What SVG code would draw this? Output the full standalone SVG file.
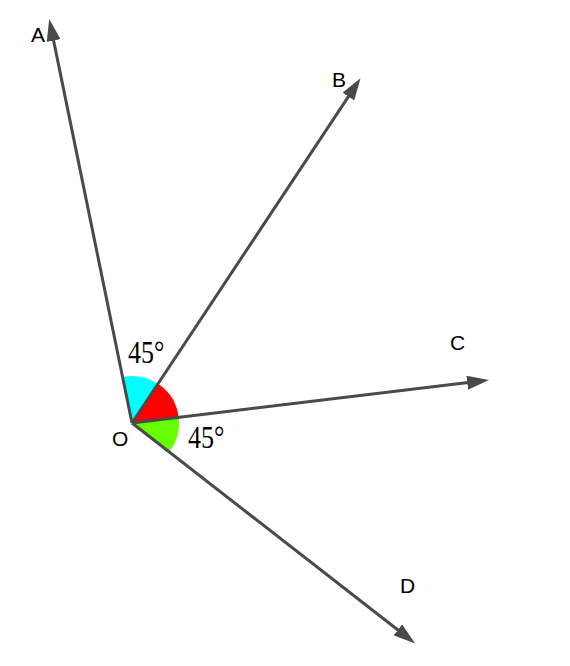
<svg xmlns="http://www.w3.org/2000/svg" width="570" height="666" viewBox="0 0 570 666">
<style>
.ray{stroke:#4a4a4a;stroke-width:3;fill:none;marker-end:url(#head)}
.lbl{font-family:"Liberation Sans",Arial,sans-serif;font-size:21px;fill:#000}
.deg{font-family:"Liberation Serif","Times New Roman",serif;font-size:26px;fill:#000}
</style>
<defs>
<marker id="head" markerUnits="userSpaceOnUse" markerWidth="24" markerHeight="14" viewBox="0 0 24 14" refX="1" refY="7" orient="auto">
<path d="M0,0 L22,7 L0,14 Z" fill="#4a4a4a"/>
</marker>
</defs>
<rect width="570" height="666" fill="#fff"/>
<g id="angles">
<path id="angle-AOB" d="M132,423 L122.56,376.95 A47,47 0 0 1 157.99,383.84 Z" fill="#00ffff"/>
<path id="angle-BOC" d="M132,423 L157.99,383.84 A47,47 0 0 1 178.66,417.40 Z" fill="#ff0000"/>
<path id="angle-COD" d="M132,423 L178.66,417.40 A47,47 0 0 1 169.09,451.86 Z" fill="#66ff00"/>
</g>
<g id="connectors">
<line class="ray" x1="132" y1="423" x2="53.4" y2="39.6"/>
<line class="ray" x1="132" y1="423" x2="348.9" y2="95.8"/>
<line class="ray" x1="132" y1="423" x2="468.2" y2="382.6"/>
<line class="ray" x1="132" y1="423" x2="398.6" y2="630.5"/>
</g>
<g id="labels">
<text class="lbl" x="31" y="42">A</text>
<text class="lbl" x="332" y="87">B</text>
<text class="lbl" x="450" y="350">C</text>
<text class="lbl" x="400" y="593">D</text>
<text class="lbl" x="112" y="446">O</text>
<text class="deg" transform="translate(128,363) scale(1,1.2)">45°</text>
<text class="deg" transform="translate(188,448) scale(1,1.2)">45°</text>
</g>
</svg>
